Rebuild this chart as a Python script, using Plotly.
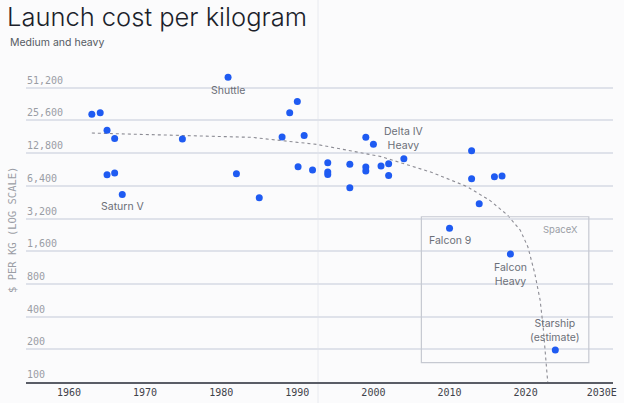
import math
import plotly.graph_objects as go

# ---- data ----
years = [1963.0, 1964.1, 1965.0, 1966.0, 1965.0, 1966.0, 1967.0, 1974.9,
         1980.9, 1982.0, 1985.0, 1988.0, 1989.0, 1990.0, 1990.9, 1990.1, 1992.0,
         1994.0, 1994.0, 1994.0, 1996.9, 1996.9, 1999.0, 2000.0, 1999.0, 1999.0,
         2001.0, 2002.0, 2002.0, 2004.0, 2012.9, 2012.9, 2015.9, 2016.9, 2013.9,
         2010.0, 2018.0, 2023.9]
costs = [29200, 30100, 20800, 17500, 8100, 8390, 5340, 17250,
         63900, 8270, 4980, 18000, 30100, 38300, 18660, 9590, 8940,
         10450, 8570, 8160, 10100, 6150, 17900, 15500, 9530, 8750,
         9760, 10240, 7990, 11370, 13450, 7440, 7770, 7880, 4380,
         2600, 1505, 197]

trend_years = [1963.0, 1975.0, 1984.0, 1992.6, 2001.0, 2007.7, 2012.3, 2015.3,
               2017.6, 2019.3, 2020.3, 2021.2, 2021.9, 2022.3, 2022.6, 2022.8, 2022.9]
trend_costs = [19600, 18750, 17900, 15400, 11900, 8500, 6300, 4700,
               3450, 2500, 1750, 1000, 570, 323, 184, 129, 100]

label_texts = ["Shuttle", "Saturn V", "Delta IV<br>Heavy", "Falcon 9",
               "Falcon<br>Heavy", "Starship<br>(estimate)"]
label_years = [1980.9, 1967.0, 2004.0, 2010.0, 2018.0, 2023.9]
label_costs = [63900, 5340, 11370, 2600, 1505, 197]
label_shifts = [-13, -12, 20, -12.5, -20, 19.5]

y_ticks = [100, 200, 400, 800, 1600, 3200, 6400, 12800, 25600, 51200]
x_ticks = [1960, 1970, 1980, 1990, 2000, 2010, 2020, 2030]
x_ticktext = ["1960", "1970", "1980", "1990", "2000", "2010", "2020", "2030E"]

spacex_box = dict(x0=2006.3, x1=2028.3, y0=150.6, y1=3325)

# ---- styling ----
BLUE = "#1f5bf2"
MONO = "DejaVu Sans Mono"
SANS = "Inter"
Y_RANGE = [2, 4.919]


def ypaper(v):
    return (math.log10(v) - Y_RANGE[0]) / (Y_RANGE[1] - Y_RANGE[0])


fig = go.Figure()

fig.add_trace(go.Scatter(
    x=trend_years, y=trend_costs, mode="lines",
    line=dict(color="#8c8c94", width=1.1, dash="3px,3px"),
    hoverinfo="skip", showlegend=False))

fig.add_trace(go.Scatter(
    x=years, y=costs, mode="markers",
    marker=dict(color=BLUE, size=7, line=dict(width=0)),
    showlegend=False))

annotations = []
for t, xv, yv, s in zip(label_texts, label_years, label_costs, label_shifts):
    annotations.append(dict(
        x=xv, y=math.log10(yv), xref="x", yref="y", text=t, showarrow=False,
        xanchor="center", yanchor="middle", yshift=s,
        font=dict(family=SANS, size=10.5, color="#6b6f78")))

for v in y_ticks:
    annotations.append(dict(
        x=0, y=math.log10(v), xref="paper", yref="y", text=f"{v:,}",
        showarrow=False, xanchor="left", yanchor="bottom", yshift=0, xshift=-1,
        font=dict(family=MONO, size=10, color="#9a9da5")))

annotations.append(dict(
    x=spacex_box["x1"], y=ypaper(spacex_box["y1"]), xref="x", yref="paper",
    text="SpaceX", showarrow=False, xanchor="right", yanchor="top",
    xshift=-9, yshift=-5, font=dict(family=SANS, size=9.5, color="#9a9da5")))

annotations.append(dict(
    x=(12 - 26) / 587, y=(382 - 230) / 317, xref="paper", yref="paper",
    text="$ PER KG (LOG SCALE)", textangle=-90, showarrow=False,
    xanchor="center", yanchor="middle",
    font=dict(family=MONO, size=10.5, color="#9a9da5")))

annotations.append(dict(
    x=(8 - 26) / 587, y=(382 - 42) / 317, xref="paper", yref="paper",
    text="Medium and heavy", showarrow=False, xanchor="left", yanchor="middle",
    font=dict(family=SANS, size=10.5, color="#555a63")))

shapes = [
    dict(type="rect", xref="x", yref="paper",
         x0=spacex_box["x0"], x1=spacex_box["x1"],
         y0=ypaper(spacex_box["y0"]), y1=ypaper(spacex_box["y1"]),
         line=dict(color="#c6c9d1", width=1.2), fillcolor="rgba(0,0,0,0)", layer="above"),
    dict(type="line", xref="paper", yref="paper",
         x0=(318 - 26) / 587, x1=(318 - 26) / 587, y0=-0.07, y1=1.21,
         line=dict(color="#e8eaef", width=1), layer="below"),
]

fig.update_layout(
    width=624, height=403,
    margin=dict(l=26, r=11, t=65, b=21, pad=0),
    paper_bgcolor="#fbfbfc", plot_bgcolor="#fbfbfc",
    title=dict(text="Launch cost per kilogram", xref="container", yref="container",
               x=7 / 624, y=1 - 17 / 403, xanchor="left", yanchor="middle",
               font=dict(family=SANS, size=25.5, color="#1c1f2b", weight=300)),
    annotations=annotations, shapes=shapes,
    xaxis=dict(range=[1954.35, 2031.48], tickvals=x_ticks, ticktext=x_ticktext,
               showgrid=False, zeroline=False, showline=True, linecolor="#5a5d66",
               linewidth=1.5, ticks="", automargin=False,
               tickfont=dict(family=MONO, size=10, color="#3f424a")),
    yaxis=dict(type="log", range=Y_RANGE, tickvals=y_ticks, showticklabels=False,
               showgrid=True, gridcolor="#dfe2ea", gridwidth=1.5, zeroline=False,
               showline=False, ticks="", automargin=False),
    hovermode=False,
)

fig.write_html("out.html")
